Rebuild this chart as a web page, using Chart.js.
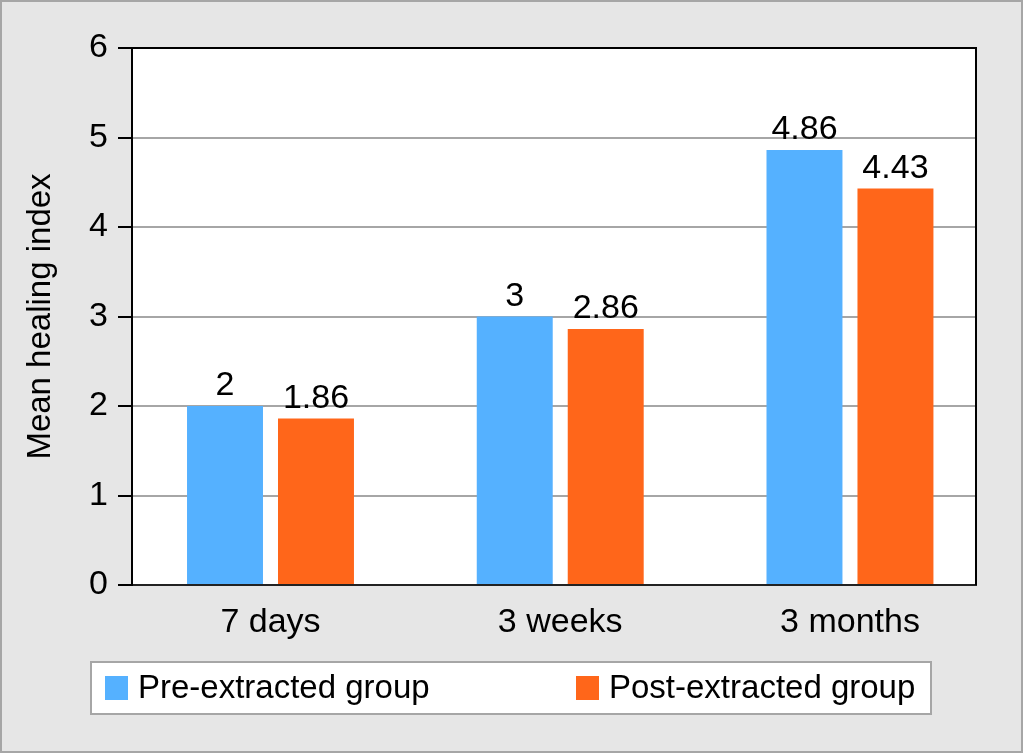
<!DOCTYPE html>
<html>
<head>
<meta charset="utf-8">
<script src="https://cdn.jsdelivr.net/npm/chart.js@4.4.1/dist/chart.umd.min.js"></script>
<style>
  html, body { margin: 0; padding: 0; background: #e6e6e6; }
  canvas { display: block; }
</style>
</head>
<body>
<canvas id="healing" width="1023" height="753"></canvas>
<script>
// values
const periods = ['7 days', '3 weeks', '3 months'];
const preExtracted = [2, 3, 4.86];
const postExtracted = [1.86, 2.86, 4.43];
const yTicks = [0, 1, 2, 3, 4, 5, 6];

const FONT = '"Liberation Sans", Arial, sans-serif';

// grey page, outer frame and white plot area
const frame = {
    id: 'frame',
    beforeDraw(chart) {
        const c = chart.ctx, a = chart.chartArea;
        c.save();
        c.fillStyle = '#e6e6e6';
        c.fillRect(0, 0, chart.width, chart.height);
        c.strokeStyle = '#a6a6a6';
        c.lineWidth = 2;
        c.strokeRect(1, 1, chart.width - 2, chart.height - 2);
        c.fillStyle = '#ffffff';
        c.fillRect(a.left, a.top, a.right - a.left, a.bottom - a.top);
        c.restore();
    },
    afterDraw(chart) {
        const c = chart.ctx, a = chart.chartArea;
        c.save();
        c.strokeStyle = '#000000';
        c.lineWidth = 2;
        c.beginPath();
        c.moveTo(a.left, a.top);
        c.lineTo(a.right, a.top);
        c.lineTo(a.right, a.bottom);
        c.stroke();
        c.restore();
    }
};

// numbers above the bars
const barValues = {
    id: 'barValues',
    afterDatasetsDraw(chart) {
        const c = chart.ctx;
        c.save();
        c.font = '34px ' + FONT;
        c.fillStyle = '#000';
        c.textAlign = 'center';
        c.textBaseline = 'alphabetic';
        chart.data.datasets.forEach((ds, i) => {
            chart.getDatasetMeta(i).data.forEach((bar, j) => {
                c.fillText(String(ds.data[j].y), bar.x, bar.y - 11);
            });
        });
        c.restore();
    }
};

// boxed legend below the chart
const boxLegend = {
    id: 'boxLegend',
    afterDraw(chart) {
        const c = chart.ctx;
        c.save();
        c.fillStyle = '#ffffff';
        c.fillRect(91, 662, 840, 52);
        c.strokeStyle = '#a6a6a6';
        c.lineWidth = 2;
        c.strokeRect(91, 662, 840, 52);
        const xs = [105, 576];
        c.font = '33px ' + FONT;
        c.textBaseline = 'middle';
        chart.data.datasets.forEach((ds, i) => {
            c.fillStyle = ds.backgroundColor;
            c.fillRect(xs[i], 676, 23, 24);
            c.fillStyle = '#000';
            c.fillText(ds.label, xs[i] + 33, 689);
        });
        c.restore();
    }
};

// groups sit at 0, 1, 2 on a numeric x axis (spacing in the reference is a bit wider than a plain category split)
const toPoints = vals => vals.map((v, i) => ({ x: i, y: v }));

new Chart(document.getElementById('healing').getContext('2d'), {
    type: 'bar',
    data: {
        datasets: [{
            label: 'Pre-extracted group',
            data: toPoints(preExtracted),
            backgroundColor: '#55b1ff',
            categoryPercentage: 0.628,
            barPercentage: 0.835
        }, {
            label: 'Post-extracted group',
            data: toPoints(postExtracted),
            backgroundColor: '#ff661a',
            categoryPercentage: 0.628,
            barPercentage: 0.835
        }]
    },
    options: {
        responsive: false,
        animation: false,
        layout: { padding: { left: 0, top: 48, right: 47, bottom: 0 } },
        plugins: {
            legend: { display: false },
            tooltip: { enabled: false }
        },
        scales: {
            x: {
                type: 'linear',
                min: -0.478,
                max: 2.435,
                offset: false,
                afterFit(s) { s.height = 168; },
                afterBuildTicks(s) { s.ticks = periods.map((p, i) => ({ value: i })); },
                grid: { display: false, drawTicks: false },
                border: { color: '#222', width: 2 },
                ticks: {
                    color: '#000',
                    padding: 17,
                    font: { family: FONT, size: 34 },
                    callback: v => periods[v]
                }
            },
            y: {
                min: 0,
                max: 6,
                afterFit(s) { s.width = 132; },
                afterBuildTicks(s) { s.ticks = yTicks.map(v => ({ value: v })); },
                grid: { color: '#a6a6a6', lineWidth: 2, tickLength: 14, tickColor: '#000', tickWidth: 2 },
                border: { color: '#000', width: 2 },
                ticks: { color: '#000', padding: 10, font: { family: FONT, size: 34 } },
                title: {
                    display: true,
                    text: 'Mean healing index',
                    color: '#000',
                    padding: { top: 21, bottom: 0 },
                    font: { family: FONT, size: 33 }
                }
            }
        }
    },
    plugins: [frame, barValues, boxLegend]
});
</script>
</body>
</html>
